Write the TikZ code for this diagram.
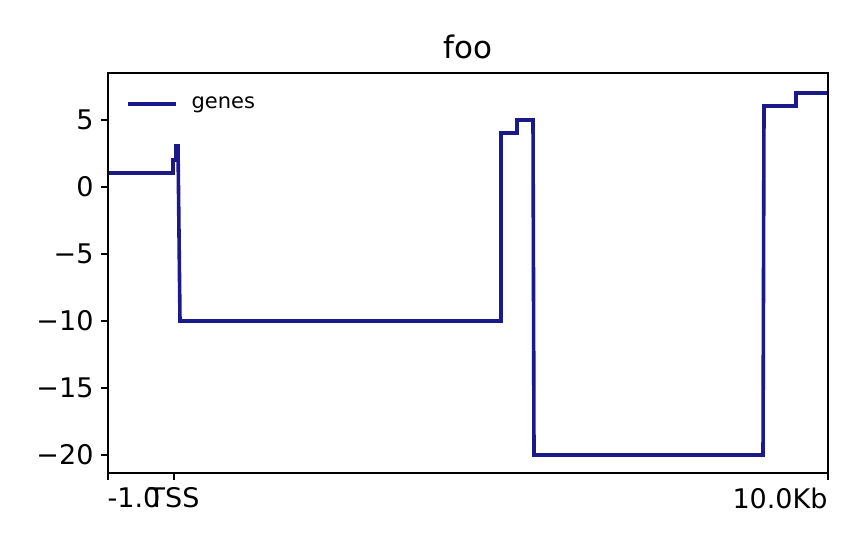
\documentclass[tikz,border=0pt]{standalone}
\usepackage{fontspec}
\setmainfont{DejaVu Sans}
\begin{document}
\begin{tikzpicture}[x=1pt,y=-1pt,
  tick/.style={font=\fontsize{27}{32}\selectfont},
  dat/.style={draw={rgb,255:red,26;green,26;blue,138},line width=3.6pt}]
\useasboundingbox (0,0) rectangle (866,551);
\node[font=\fontsize{31}{36}\selectfont] (title) at (468,47) {foo};
% data
\draw[dat] (108,173) -- (173,173) -- (173,160) -- (176,160) -- (176,146) -- (178,146) -- (180,321) -- (501,321) -- (501,133) -- (517,133) -- (517,120) -- (533,120) -- (534,455) -- (763,455) -- (764,106) -- (796,106) -- (796,93) -- (828,93);
\draw[line width=1.8pt] (108,73) rectangle (828,473);
% y ticks
\foreach \v/\l in {5/5,0/0,-5/−5,-10/−10,-15/−15,-20/−20}{
  \draw[line width=1.6pt] (108,187-13.4*\v) -- (101,187-13.4*\v);
  \node[tick,anchor=east] at (97,187-13.4*\v) {\l};
}
% x ticks
\foreach \x in {108,174,828}{\draw[line width=1.6pt] (\x,473) -- (\x,480);}
\node[tick,anchor=north] (xa) at (134,484) {-1.0};
\node[tick,anchor=north] (xb) at (174,484) {TSS};
\node[tick,anchor=north] (xc) at (780,484) {10.0Kb};
% legend
\draw[dat] (128,104) -- (176,104);
\node[font=\fontsize{21}{25}\selectfont,anchor=west] (leg) at (188,105) {genes};
\end{tikzpicture}
\end{document}
